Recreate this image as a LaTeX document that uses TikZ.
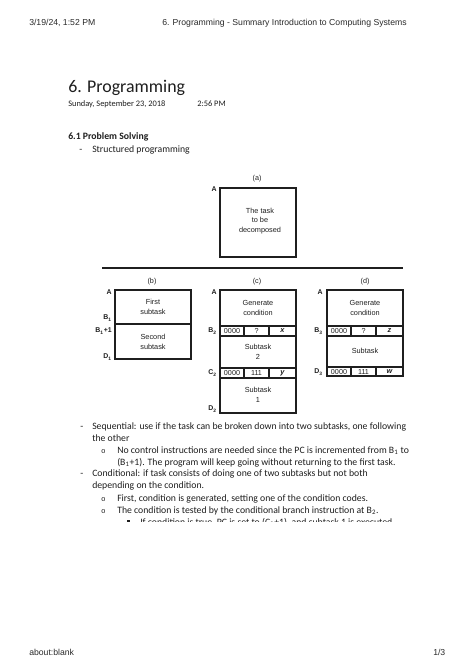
\documentclass[tikz,border=0pt]{standalone}
\usepackage{fontspec}
\setmainfont{Carlito}
\newfontfamily\arialfont{Liberation Sans}
\usetikzlibrary{positioning}
\definecolor{cInk}{HTML}{1E1E1E}
\definecolor{cHead}{HTML}{2A2A2A}
\definecolor{cScan}{HTML}{1F1F1F}
\tikzset{
  hdr/.style    = {anchor=base west, inner sep=0pt, text=cHead,
                   font=\arialfont\fontsize{6.5}{8}\selectfont},
  body/.style   = {anchor=base west, inner sep=0pt, text=cInk,
                   font=\fontsize{7.3}{9}\selectfont},
  ttl/.style    = {anchor=base west, inner sep=0pt, text=cInk,
                   font=\fontsize{13.4}{16}\selectfont},
  dashmark/.style = {body},
  circ/.style   = {anchor=base west, inner sep=0pt, text=cInk,
                   font=\arialfont\fontsize{5.5}{7}\selectfont},
  scan/.style   = {text=cScan, inner sep=0pt, align=center,
                   font=\arialfont\fontsize{5.4}{6}\selectfont},
  scanml/.style = {scan, font=\arialfont\fontsize{5.5}{7}\selectfont},
  var/.style    = {scan, font=\arialfont\bfseries\itshape\fontsize{5.5}{6}\selectfont},
  tag/.style    = {scan, anchor=east, font=\arialfont\bfseries\fontsize{5.2}{6}\selectfont},
  frame/.style  = {draw=cScan, line width=0.8pt},
  rulestyle/.style = {draw=cScan, line width=1pt},
}

\begin{document}
\begin{tikzpicture}[x=0.75pt, y=-0.75pt]
  \useasboundingbox[fill=white] (0,0) rectangle (474,671);
  % page header and footer
  \node[hdr] (date) at (29,25) {3/19/24, 1:52 PM};
  \node[hdr] (title) at (162,25) {6. Programming - Summary Introduction to Computing Systems};
  \node[hdr] (url) at (29,655) {about:blank};
  \node[hdr] (page) at (433,655) {1/3};
  % note heading
  \node[ttl] (head) at (68,92) {6. Programming};
  \node[body, font=\fontsize{6.3}{8}\selectfont] (day) at (68,106) {Sunday, September 23, 2018};
  \node[body, font=\fontsize{6.3}{8}\selectfont] (time) at (197,106) {2:56 PM};
  \node[body, font=\bfseries\fontsize{7.3}{9}\selectfont] (sec) at (68,139) {6.1 Problem Solving};
  \node[dashmark] (d0) at (79,152) {-};
  \node[body] (sp) at (92,152) {Structured programming};

  % (a) the whole task
  \node[scan] (capa) at (257,179) {(a)};
  \draw[frame] (220,188) rectangle (296,257);
  \node[tag] (aA) at (217,189) {A};
  \node[scanml] (task) at (260,221) {The task\\to be\\decomposed};
  \draw[rulestyle] (102,268) -- (403,268);

  % (b) sequential
  \node[scan] (capb) at (152,282) {(b)};
  \draw[frame] (115,290) rectangle (191,359);
  \draw[frame] (115,324) -- (191,324);
  \node[tag] (bA) at (112,292) {A};
  \node[tag] (bB) at (112,318) {B\textsubscript{1}};
  \node[tag] (bB1) at (112,331) {B\textsubscript{1}+1};
  \node[tag] (bD) at (112,357) {D\textsubscript{1}};
  \node[scanml] (first) at (153,307) {First\\subtask};
  \node[scanml] (second) at (153,342) {Second\\subtask};

  % (c) conditional
  \node[scan] (capc) at (257,282) {(c)};
  \draw[frame] (220,290) rectangle (296,413);
  \draw[frame] (220,326) -- (296,326) (220,336) -- (296,336)
               (220,368) -- (296,368) (220,378) -- (296,378)
               (244,326) -- (244,336) (269,326) -- (269,336)
               (244,368) -- (244,378) (269,368) -- (269,378);
  \node[tag] (cA) at (217,292) {A};
  \node[tag] (cB) at (217,331) {B\textsubscript{2}};
  \node[tag] (cC) at (217,373) {C\textsubscript{2}};
  \node[tag] (cD) at (217,409) {D\textsubscript{2}};
  \node[scanml] (cgen) at (258,308) {Generate\\condition};
  \node[scan] (cz1) at (232,331) {0000};
  \node[scan] (cq) at (256.5,331) {?};
  \node[var] (cx) at (282.5,331) {x};
  \node[scanml] (csub2) at (258,352) {Subtask\\2};
  \node[scan] (cz2) at (232,373) {0000};
  \node[scan] (cone) at (256.5,373) {111};
  \node[var] (cy) at (282.5,373) {y};
  \node[scanml] (csub1) at (258,395) {Subtask\\1};

  % (d) loop
  \node[scan] (capd) at (365,282) {(d)};
  \draw[frame] (327,290) rectangle (403,376);
  \draw[frame] (327,326) -- (403,326) (327,336) -- (403,336)
               (327,367) -- (403,367)
               (351,326) -- (351,336) (376,326) -- (376,336)
               (351,367) -- (351,376) (376,367) -- (376,376);
  \node[tag] (dA) at (323,292) {A};
  \node[tag] (dB) at (323,331) {B\textsubscript{3}};
  \node[tag] (dD) at (323,372) {D\textsubscript{3}};
  \node[scanml] (dgen) at (365,308) {Generate\\condition};
  \node[scan] (dz1) at (339,331) {0000};
  \node[scan] (dq) at (363.5,331) {?};
  \node[var] (dz) at (389.5,331) {z};
  \node[scanml] (dsub) at (365,351) {Subtask};
  \node[scan] (dz2) at (339,372) {0000};
  \node[scan] (done) at (363.5,372) {111};
  \node[var] (dw) at (389.5,372) {w};

  % notes under the figure
  \node[dashmark] (d1) at (80,429) {-};
  \node[body] (l1) at (92,429) {Sequential: use if the task can be broken down into two subtasks, one following};
  \node[body] (l2) at (92,441) {the other};
  \node[circ] (o1) at (101,453) {o};
  \node[body] (l3) at (117,453) {No control instructions are needed since the PC is incremented from B\textsubscript{1} to};
  \node[body] (l4) at (117,465) {(B\textsubscript{1}+1). The program will keep going without returning to the first task.};
  \node[dashmark] (d2) at (80,476) {-};
  \node[body] (l5) at (92,476) {Conditional: if task consists of doing one of two subtasks but not both};
  \node[body] (l6) at (92,488) {depending on the condition.};
  \node[circ] (o2) at (101,501) {o};
  \node[body] (l7) at (117,501) {First, condition is generated, setting one of the condition codes.};
  \node[circ] (o3) at (101,513) {o};
  \node[body] (l8) at (117,513) {The condition is tested by the conditional branch instruction at B\textsubscript{2}.};
  \begin{scope}
    \clip (0,515) rectangle (474,521);
    \node[body] (sq) at (127,525) {\raisebox{1.6pt}{\rule{2.2pt}{2.2pt}}};
    \node[body] (l9) at (140,525) {If condition is true, PC is set to (C\textsubscript{2}+1), and subtask 1 is executed};
  \end{scope}
\end{tikzpicture}
\end{document}
